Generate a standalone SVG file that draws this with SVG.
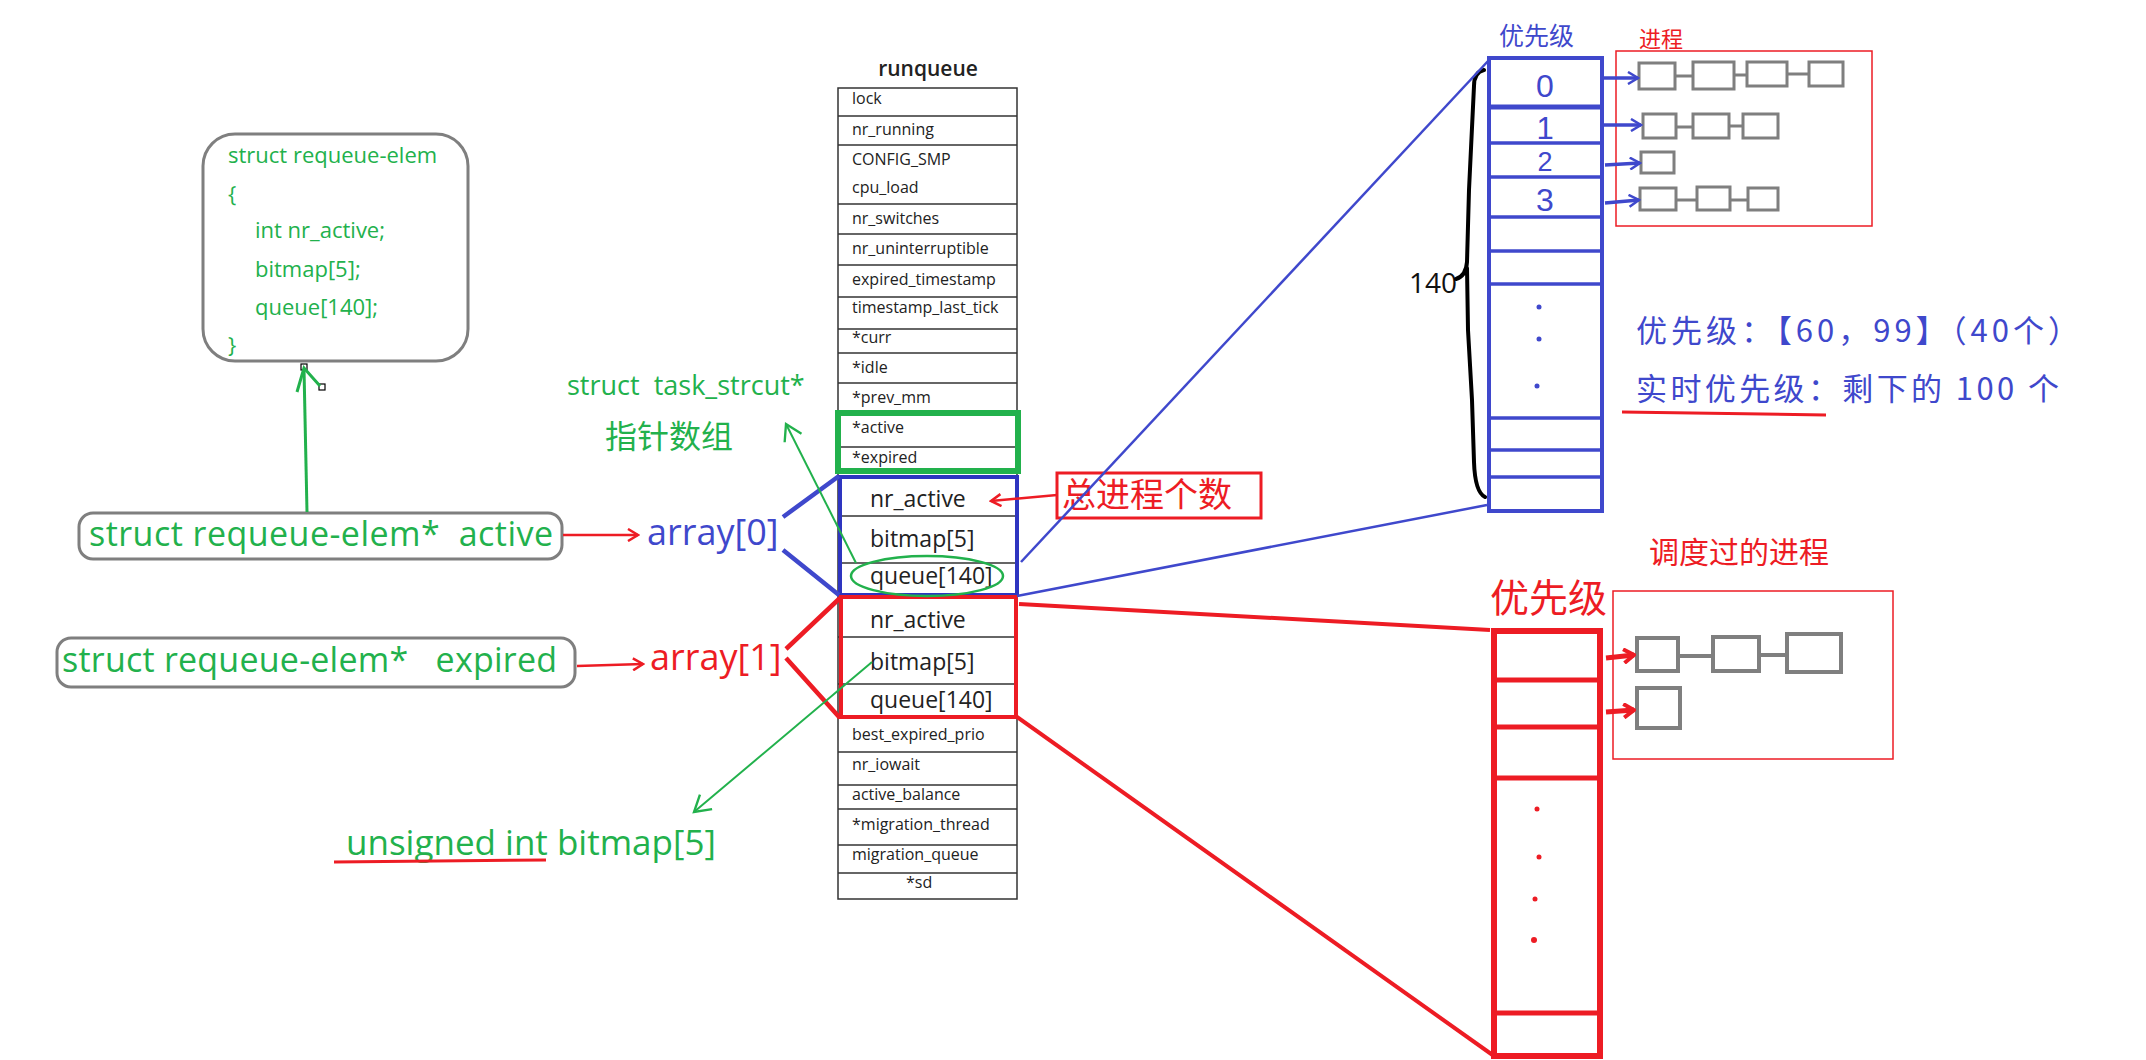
<svg xmlns="http://www.w3.org/2000/svg" width="2146" height="1060" viewBox="0 0 2146 1060">
<defs>
<style>
text{font-family:"Open Sans","Noto Sans CJK SC",sans-serif}
.cjk{font-family:"Noto Sans CJK SC","Open Sans",sans-serif}
.num{font-family:"Liberation Sans",Arial,sans-serif}
.g{fill:#22b14c}.b{fill:#3f48cc}.r{fill:#ed1c24}.k{fill:#222}
.rq{font-size:16px;fill:#222}
.big{font-size:23px;fill:#222}
.row{stroke:#333;stroke-width:1.5}
.gbox{fill:none;stroke:#7f7f7f;stroke-width:3}
.gln{stroke:#7f7f7f;stroke-width:3}
.bl{stroke:#3f48cc;fill:none}
.rl{stroke:#ed1c24;fill:none}
.gl{stroke:#22b14c;fill:none}
</style>
<marker id="mr" viewBox="0 0 14 14" refX="12" refY="7" markerWidth="14" markerHeight="14" orient="auto" markerUnits="userSpaceOnUse"><path d="M2,1 L12,7 L2,13" fill="none" stroke="#ed1c24" stroke-width="2.5"/></marker>
<marker id="mrb" viewBox="0 0 14 14" refX="12" refY="7" markerWidth="16" markerHeight="16" orient="auto" markerUnits="userSpaceOnUse"><path d="M3,1 L12,7 L3,13" fill="none" stroke="#ed1c24" stroke-width="3.5"/></marker>
<marker id="mb" viewBox="0 0 14 14" refX="12" refY="7" markerWidth="14" markerHeight="14" orient="auto" markerUnits="userSpaceOnUse"><path d="M2,1 L12,7 L2,13" fill="none" stroke="#3f48cc" stroke-width="2.5"/></marker>
<marker id="mg" viewBox="0 0 14 14" refX="12" refY="7" markerWidth="22" markerHeight="22" orient="auto" markerUnits="userSpaceOnUse"><path d="M2,1 L12,7 L2,13" fill="none" stroke="#22b14c" stroke-width="1.5"/></marker>
</defs>
<rect width="2146" height="1060" fill="#fff"/>

<g id="struct-def">
<rect x="203" y="134" width="265" height="227" rx="32" fill="none" stroke="#7f7f7f" stroke-width="3"/>
<text class="g" font-size="22" x="228" y="163">struct requeue-elem</text>
<text class="g" font-size="22" x="228" y="202">{</text>
<text class="g" font-size="22" x="255" y="238">int nr_active;</text>
<text class="g" font-size="22" x="255" y="277">bitmap[5];</text>
<text class="g" font-size="22" x="255" y="315">queue[140];</text>
<text class="g" font-size="22" x="228" y="353">}</text>
<rect x="301" y="364" width="6" height="6" fill="#fff" stroke="#000" stroke-width="1.2"/>
<rect x="319" y="384" width="6" height="6" fill="#fff" stroke="#000" stroke-width="1.2"/>
</g>

<g id="active-ptr">
<rect x="79" y="513" width="483" height="46" rx="14" fill="none" stroke="#7f7f7f" stroke-width="3"/>
<text class="g" font-size="34" x="89" y="546" textLength="464" lengthAdjust="spacing" xml:space="preserve">struct requeue-elem*  active</text>
</g>
<g id="expired-ptr">
<rect x="57" y="638" width="518" height="49" rx="14" fill="none" stroke="#7f7f7f" stroke-width="3"/>
<text class="g" font-size="34" x="62" y="672" textLength="495" lengthAdjust="spacing" xml:space="preserve">struct requeue-elem*   expired</text>
</g>

<g id="array0"><text class="b" font-size="36" x="647" y="545">array[0]</text></g>
<g id="array1"><text class="r" font-size="36" x="650" y="670">array[1]</text></g>

<g id="task-label">
<text class="g" font-size="27" x="567" y="395" xml:space="preserve">struct  task_strcut*</text>
<text class="g cjk" font-size="32" x="605" y="448">指针数组</text>
</g>

<g id="bitmap-label">
<text class="g" font-size="35" x="346" y="855">unsigned int bitmap[5]</text>
<path d="M334,862 L546,860" stroke="#ed1c24" stroke-width="3"/>
</g>

<g id="total-label">
<rect x="1057" y="473" width="204" height="45" fill="none" stroke="#ed1c24" stroke-width="3"/>
<text class="r cjk" font-size="34" x="1062" y="507">总进程个数</text>
</g>

<g id="runqueue">
<text x="928" y="76" font-size="21" font-weight="600" text-anchor="middle" fill="#222">runqueue</text>
<rect x="838" y="88" width="179" height="811" fill="#fff" stroke="#333" stroke-width="1.5"/>
<g class="row">
<line x1="838" y1="116" x2="1017" y2="116"/>
<line x1="838" y1="145" x2="1017" y2="145"/>
<line x1="838" y1="204" x2="1017" y2="204"/>
<line x1="838" y1="234" x2="1017" y2="234"/>
<line x1="838" y1="265" x2="1017" y2="265"/>
<line x1="838" y1="297" x2="1017" y2="297"/>
<line x1="838" y1="329" x2="1017" y2="329"/>
<line x1="838" y1="353" x2="1017" y2="353"/>
<line x1="838" y1="383" x2="1017" y2="383"/>
<line x1="838" y1="447" x2="1017" y2="447"/>
<line x1="838" y1="516" x2="1017" y2="516"/>
<line x1="838" y1="563" x2="1017" y2="563"/>
<line x1="838" y1="637" x2="1017" y2="637"/>
<line x1="838" y1="684" x2="1017" y2="684"/>
<line x1="838" y1="752" x2="1017" y2="752"/>
<line x1="838" y1="785" x2="1017" y2="785"/>
<line x1="838" y1="809" x2="1017" y2="809"/>
<line x1="838" y1="845" x2="1017" y2="845"/>
<line x1="838" y1="873" x2="1017" y2="873"/>
</g>
<text class="rq" x="852" y="104">lock</text>
<text class="rq" x="852" y="135">nr_running</text>
<text class="rq" x="852" y="165">CONFIG_SMP</text>
<text class="rq" x="852" y="193">cpu_load</text>
<text class="rq" x="852" y="224">nr_switches</text>
<text class="rq" x="852" y="254">nr_uninterruptible</text>
<text class="rq" x="852" y="285">expired_timestamp</text>
<text class="rq" x="852" y="313">timestamp_last_tick</text>
<text class="rq" x="852" y="343">*curr</text>
<text class="rq" x="852" y="373">*idle</text>
<text class="rq" x="852" y="403">*prev_mm</text>
<text class="rq" x="852" y="433">*active</text>
<text class="rq" x="852" y="463">*expired</text>
<text class="big" x="870" y="507">nr_active</text>
<text class="big" x="870" y="547">bitmap[5]</text>
<text class="big" x="870" y="584">queue[140]</text>
<text class="big" x="870" y="628">nr_active</text>
<text class="big" x="870" y="670">bitmap[5]</text>
<text class="big" x="870" y="708">queue[140]</text>
<text class="rq" x="852" y="740">best_expired_prio</text>
<text class="rq" x="852" y="770">nr_iowait</text>
<text class="rq" x="852" y="800" font-size="15">active_balance</text>
<text class="rq" x="852" y="830">*migration_thread</text>
<text class="rq" x="852" y="860">migration_queue</text>
<text class="rq" x="906" y="888">*sd</text>
<rect x="838" y="413" width="180" height="58" fill="none" stroke="#22b14c" stroke-width="6"/>
<rect x="840" y="477" width="177" height="118" fill="none" stroke="#2e35c0" stroke-width="4"/>
<rect x="841" y="597" width="175" height="120" fill="none" stroke="#ed1c24" stroke-width="4"/>
<ellipse cx="927" cy="576" rx="76" ry="20" fill="none" stroke="#22b14c" stroke-width="2.5"/>
</g>

<g id="active-prio">
<text class="b cjk" font-size="25" x="1499" y="45">优先级</text>
<rect x="1489" y="58" width="113" height="453" fill="none" stroke="#3f48cc" stroke-width="4"/>
<g stroke="#3f48cc" stroke-width="3.5">
<line x1="1489" y1="107" x2="1602" y2="107" stroke-width="5"/>
<line x1="1489" y1="143" x2="1602" y2="143"/>
<line x1="1489" y1="177" x2="1602" y2="177"/>
<line x1="1489" y1="217" x2="1602" y2="217"/>
<line x1="1489" y1="251" x2="1602" y2="251"/>
<line x1="1489" y1="284" x2="1602" y2="284"/>
<line x1="1488" y1="418" x2="1602" y2="418"/>
<line x1="1489" y1="450" x2="1604" y2="450"/>
<line x1="1488" y1="477" x2="1602" y2="477"/>
</g>
<text class="b num" font-size="32" x="1545" y="97" text-anchor="middle">0</text>
<text class="b num" font-size="31" x="1545" y="139" text-anchor="middle">1</text>
<text class="b num" font-size="27" x="1545" y="171" text-anchor="middle">2</text>
<text class="b num" font-size="32" x="1545" y="211" text-anchor="middle">3</text>
<circle cx="1539" cy="307" r="2.5" fill="#3f48cc"/>
<circle cx="1539" cy="339" r="2.5" fill="#3f48cc"/>
<circle cx="1537" cy="386" r="2.5" fill="#3f48cc"/>
<text font-size="28" x="1409" y="293" fill="#111">140</text>
<path d="M1484,70 Q1474,72 1474,86 L1469,190 L1467,262 Q1466,276 1456,279 M1467,268 L1468,330 L1472,400 L1474,462 Q1475,492 1485,497" fill="none" stroke="#000" stroke-width="4" stroke-linecap="round"/>
</g>

<g id="active-procs">
<text class="r cjk" font-size="22" x="1639" y="47">进程</text>
<rect x="1616" y="51" width="256" height="175" fill="none" stroke="#ed1c24" stroke-width="1.5"/>
<rect class="gbox" x="1639" y="63" width="36" height="26"/>
<rect class="gbox" x="1693" y="62" width="41" height="27"/>
<rect class="gbox" x="1747" y="62" width="40" height="24"/>
<rect class="gbox" x="1809" y="62" width="34" height="24"/>
<line class="gln" x1="1675" y1="76" x2="1693" y2="76"/>
<line class="gln" x1="1734" y1="75" x2="1747" y2="75"/>
<line class="gln" x1="1787" y1="74" x2="1809" y2="74"/>
<rect class="gbox" x="1643" y="114" width="33" height="24"/>
<rect class="gbox" x="1693" y="114" width="36" height="24"/>
<rect class="gbox" x="1743" y="114" width="35" height="24"/>
<line class="gln" x1="1676" y1="127" x2="1693" y2="127"/>
<line class="gln" x1="1729" y1="126" x2="1743" y2="126"/>
<rect class="gbox" x="1641" y="152" width="33" height="21"/>
<rect class="gbox" x="1640" y="188" width="36" height="22"/>
<rect class="gbox" x="1697" y="187" width="33" height="23"/>
<rect class="gbox" x="1748" y="188" width="30" height="22"/>
<line class="gln" x1="1676" y1="200" x2="1697" y2="200"/>
<line class="gln" x1="1730" y1="200" x2="1748" y2="200"/>
</g>

<g id="prio-note">
<text class="b cjk" font-size="31" x="1636" y="342" textLength="443" lengthAdjust="spacing" xml:space="preserve">优先级：【60，99】（40个）</text>
<text class="b cjk" font-size="31" x="1636" y="400" textLength="423" lengthAdjust="spacing" xml:space="preserve">实时优先级：剩下的 100 个</text>
<path d="M1622,412 L1826,415" stroke="#ed1c24" stroke-width="3"/>
</g>

<g id="expired-prio">
<text class="r cjk" font-size="39" x="1490" y="612">优先级</text>
<rect x="1494" y="631" width="106" height="425" fill="none" stroke="#ed1c24" stroke-width="6"/>
<g stroke="#ed1c24" stroke-width="5">
<line x1="1494" y1="680" x2="1600" y2="680"/>
<line x1="1494" y1="727" x2="1600" y2="727"/>
<line x1="1494" y1="778" x2="1600" y2="778"/>
<line x1="1494" y1="1013" x2="1600" y2="1013"/>
</g>
<circle cx="1537" cy="809" r="2.5" fill="#ed1c24"/>
<circle cx="1539" cy="857" r="2.5" fill="#ed1c24"/>
<circle cx="1535" cy="899" r="2.5" fill="#ed1c24"/>
<circle cx="1534" cy="940" r="3" fill="#ed1c24"/>
</g>

<g id="expired-procs">
<text class="r cjk" font-size="30" x="1649" y="563">调度过的进程</text>
<rect x="1613" y="591" width="280" height="168" fill="none" stroke="#ed1c24" stroke-width="1.5"/>
<g fill="none" stroke="#7f7f7f" stroke-width="4">
<rect x="1637" y="638" width="41" height="33"/>
<rect x="1713" y="637" width="46" height="34"/>
<rect x="1787" y="634" width="54" height="38"/>
<line x1="1678" y1="656" x2="1713" y2="656"/>
<line x1="1759" y1="655" x2="1787" y2="655"/>
<rect x="1637" y="688" width="43" height="40"/>
</g>
</g>

<g id="connectors">
<path class="gl" d="M307,512 L304,369" stroke-width="3"/>
<path d="M297,392 L304,368 L320,386" fill="none" stroke="#22b14c" stroke-width="3"/>
<path class="rl" d="M563,535 L638,535" stroke-width="2.5" marker-end="url(#mr)"/>
<path class="rl" d="M577,666 L643,664" stroke-width="2.5" marker-end="url(#mr)"/>
<path class="rl" d="M1057,495 L991,501" stroke-width="2.5" marker-end="url(#mr)"/>
<path class="bl" d="M783,517 L839,476 M783,550 L839,595" stroke-width="4.5"/>
<path class="rl" d="M786,649 L840,598 M786,658 L840,718" stroke-width="4.5"/>
<path class="gl" d="M856,563 L786,424" stroke-width="2" marker-end="url(#mg)"/>
<path class="gl" d="M872,662 L694,812" stroke-width="2" marker-end="url(#mg)"/>
<path class="bl" d="M1021,562 L1489,60" stroke-width="2.5"/>
<path class="bl" d="M1017,596 L1487,505" stroke-width="2.5"/>
<path class="rl" d="M1019,604 L1490,630" stroke-width="4"/>
<path class="rl" d="M1017,717 L1494,1056" stroke-width="4"/>
<path class="bl" d="M1602,78 L1638,78" stroke-width="3.5" marker-end="url(#mb)"/>
<path class="bl" d="M1602,125 L1641,125" stroke-width="3.5" marker-end="url(#mb)"/>
<path class="bl" d="M1605,165 L1640,163" stroke-width="3.5" marker-end="url(#mb)"/>
<path class="bl" d="M1605,203 L1639,200" stroke-width="3.5" marker-end="url(#mb)"/>
<path class="rl" d="M1606,658 L1634,655" stroke-width="5" marker-end="url(#mrb)"/>
<path class="rl" d="M1606,712 L1634,710" stroke-width="5" marker-end="url(#mrb)"/>
</g>
</svg>
